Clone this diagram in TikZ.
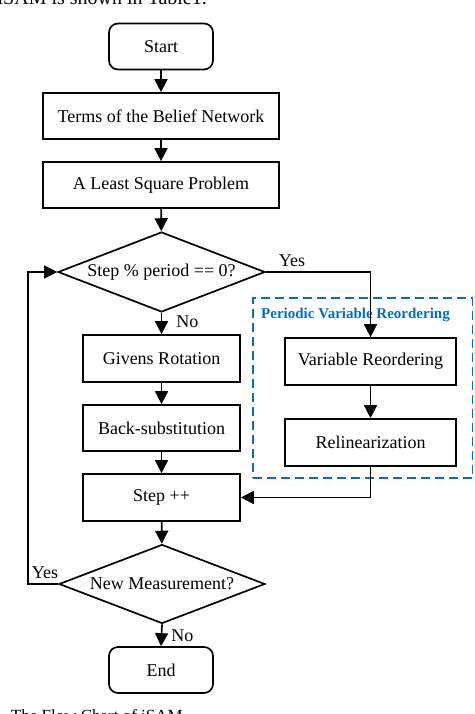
\documentclass[tikz,border=0pt]{standalone}
\usepackage{fontspec}
\setmainfont{Liberation Serif}
\usetikzlibrary{shapes.geometric,arrows.meta}
\definecolor{grpblue}{RGB}{0,112,192}
\begin{document}
\begin{tikzpicture}[x=1pt,y=-1pt,
  every node/.style={font=\fontsize{18}{21}\selectfont},
  box/.style={draw,line width=1.7pt,rectangle,inner sep=0pt},
  term/.style={draw,line width=1.7pt,rectangle,rounded corners=9pt,inner sep=0pt,minimum width=104pt,minimum height=46pt},
  dec/.style={draw,line width=1.7pt,diamond,aspect=2.6,inner sep=0pt},
  arr/.style={line width=1.7pt,-{Triangle[length=13pt,width=13pt]}},
  lbl/.style={inner sep=0pt},
  grp/.style={draw=grpblue,line width=1.7pt,dash pattern=on 9pt off 5pt,rectangle,inner sep=0pt},
  grplabel/.style={text=grpblue,font=\fontsize{15}{18}\selectfont\bfseries,inner sep=0pt}
]
\useasboundingbox (0,0) rectangle (474,714);
\begin{scope}
\clip (0,0) rectangle (474,714);
\node[lbl,anchor=base east,font=\fontsize{20}{24}\selectfont] (toptext) at (207,5) {iSAM is shown in Table1.};
\node[lbl,anchor=north east,font=\fontsize{17}{20}\selectfont] (caption) at (183,709) {Fig. 3. The Flow Chart of iSAM};
\end{scope}

\node[term] (start) at (161,46.5) {Start};
\node[box,minimum width=236pt,minimum height=46pt] (terms) at (161,116) {Terms of the Belief Network};
\node[box,minimum width=236pt,minimum height=46pt] (lsq) at (161,185) {A Least Square Problem};
\node[dec,minimum width=207pt,minimum height=80pt] (d1) at (161.5,272) {Step \% period == 0?};
\node[box,minimum width=157pt,minimum height=47pt] (givens) at (161.5,358.5) {Givens Rotation};
\node[box,minimum width=157pt,minimum height=46pt] (back) at (161.5,428) {Back-substitution};
\node[box,minimum width=157pt,minimum height=47pt] (step) at (161.5,497.5) {Step ++};
\node[dec,minimum width=206pt,minimum height=79pt] (d2) at (162,584) {New Measurement?};
\node[term] (end) at (161,670) {End};

\node[grp,minimum width=219.5pt,minimum height=180pt] (group) at (362.75,388) {};
\node[grplabel] (grouplabel) at (355.5,315) {Periodic Variable Reordering};
\node[box,minimum width=171pt,minimum height=47pt] (varr) at (370.5,361.5) {Variable Reordering};
\node[box,minimum width=171pt,minimum height=47pt] (relin) at (370.5,442.5) {Relinearization};

\draw[arr] (start) -- (terms);
\draw[arr] (terms) -- (lsq);
\draw[arr] (lsq) -- (d1);
\draw[arr] (d1.south) -- node[lbl,right=14pt,pos=0.4] (no1) {No} (givens.north);
\draw[arr] (givens) -- (back);
\draw[arr] (back) -- (step);
\draw[arr] (step) -- (d2);
\draw[arr] (d2.south) -- node[lbl,right=9pt,pos=0.5] (no2) {No} (end.north);
\draw[arr] (d1.east) -| (varr.north);
\node[lbl] (yes1) at (292,261) {Yes};
\draw[arr] (varr) -- (relin);
\draw[arr] (relin.south) |- (step.east);
\coordinate (loop) at (28,584);
\draw[arr] (d2.west) -- (loop) |- (d1.west);
\node[lbl] (yes2) at (45,573) {Yes};
\end{tikzpicture}
\end{document}
